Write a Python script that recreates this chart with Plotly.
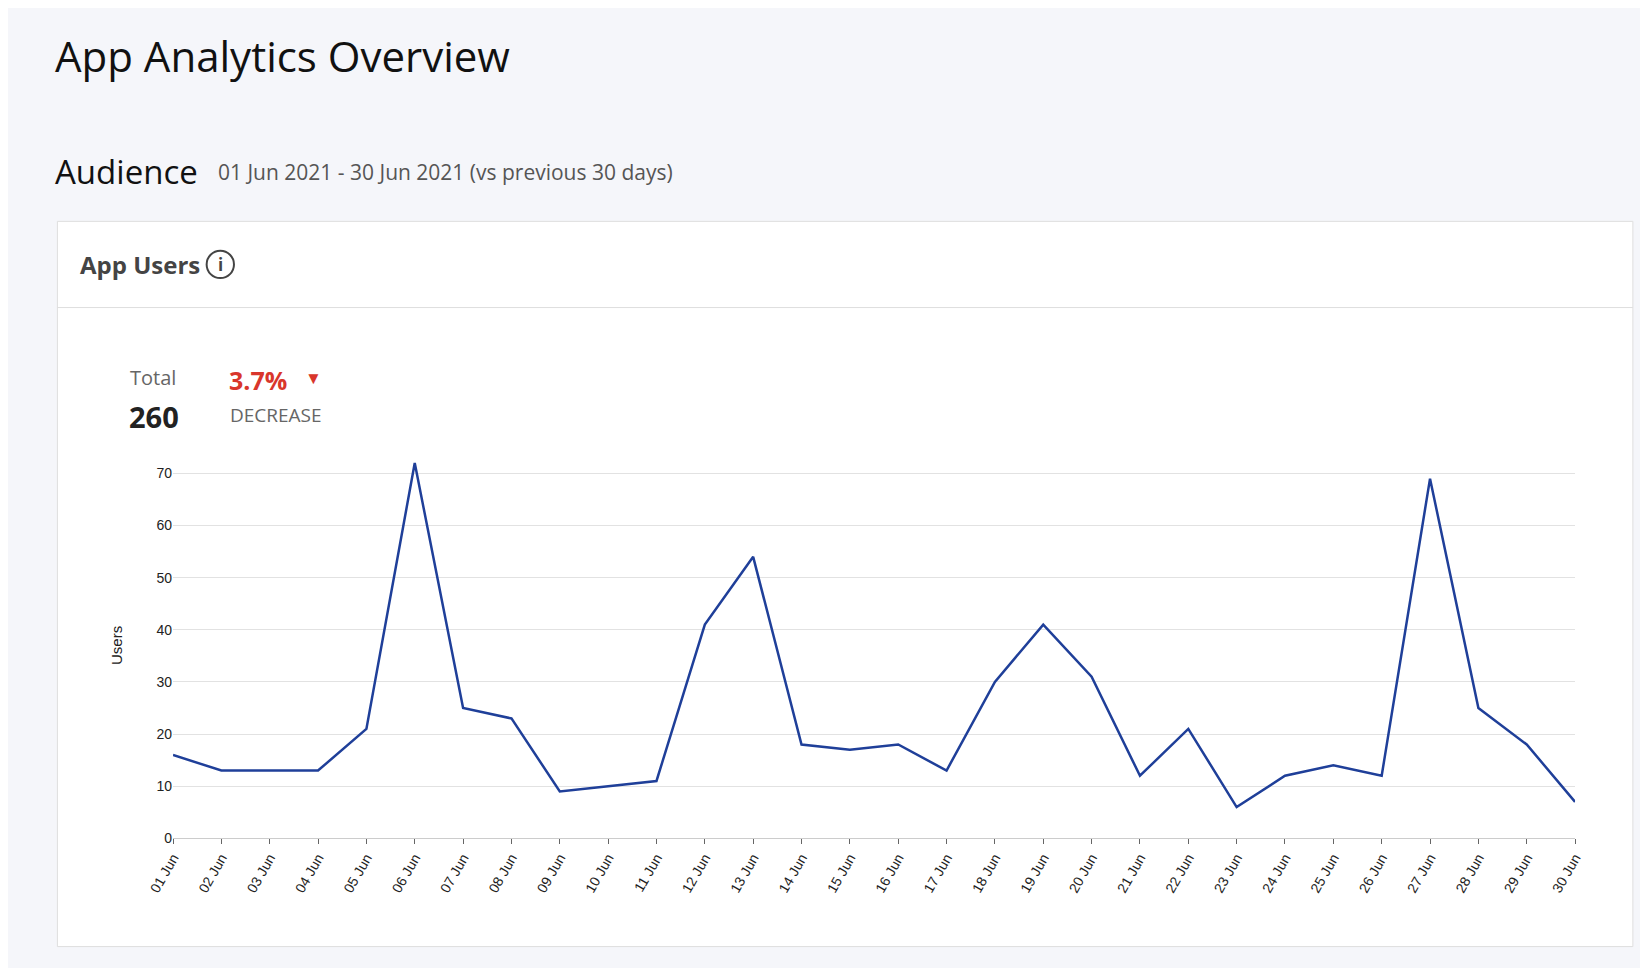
import plotly.graph_objects as go

days = ["%02d Jun" % d for d in range(1, 31)]
users = [16, 13, 13, 13, 21, 72, 25, 23, 9, 10, 11, 41, 54, 18, 17, 18, 13, 30, 41, 31,
         12, 21, 6, 12, 14, 12, 69, 25, 18, 7]
y_ticks = [0, 10, 20, 30, 40, 50, 60, 70]

W, H = 1568.0, 921.0  # reference proportions
S = 1648 / W
def px(x): return x / W
def py(y): return 1 - y / H
def fs(n): return round(n * S)

fig = go.Figure(go.Scatter(x=days, y=users, mode="lines",
                           line=dict(color="#1f3f99", width=2.5), hoverinfo="x+y"))

fig.update_layout(
    width=1648, height=968, margin=dict(l=0, r=0, t=0, b=0, pad=0),
    paper_bgcolor="#f5f6fa", plot_bgcolor="white", showlegend=False,
    font=dict(family="Source Sans Pro, Open Sans, sans-serif", color="#333"),
    xaxis=dict(domain=[px(157), px(1491)], range=[0, 29], showgrid=False, automargin=False,
               tickangle=-60, tickfont=dict(family="Liberation Sans, Arial", size=fs(13), color="#222"),
               ticks="outside", ticklen=5, tickcolor="#666", showline=True, linecolor="#ccc"),
    yaxis=dict(domain=[py(790), py(423)], range=[0, 74], tickvals=y_ticks, automargin=False,
               gridcolor="#e2e2e2", zeroline=False,
               tickfont=dict(family="Liberation Sans, Arial", size=fs(13), color="#222"),
               title=dict(text="Users", font=dict(family="Liberation Sans, Arial", size=fs(14), color="#222"),
                          standoff=30)),
)
# card
fig.add_shape(type="rect", xref="paper", yref="paper", x0=px(47), x1=px(1546), y0=py(893), y1=py(203),
              fillcolor="white", line=dict(color="#dedede", width=1), layer="below")
fig.add_shape(type="line", xref="paper", yref="paper", x0=px(47), x1=px(1546), y0=py(285), y1=py(285),
              line=dict(color="#dedede", width=1))
fig.add_shape(type="circle", xref="paper", yref="paper", x0=px(189), x1=px(215), y0=py(257), y1=py(231),
              line=dict(color="#444", width=2))

def txt(x, y, t, size, color="#222", anchor="left"):
    fig.add_annotation(xref="paper", yref="paper", x=px(x), y=py(y), text=t, showarrow=False,
                       xanchor=anchor, yanchor="middle", font=dict(size=fs(size), color=color))

txt(43, 45, "App Analytics Overview", 40, "#111")
txt(43, 156, "Audience", 31, "#111")
txt(198, 156, "01 Jun 2021 - 30 Jun 2021 (vs previous 30 days)", 20, "#555")
txt(67, 244, "<b>App Users</b>", 23, "#444")
txt(202, 244, "<b>i</b>", 16, "#444", "center")
txt(114, 352, "Total", 19, "#666")
txt(113, 389, "<b>260</b>", 28, "#222")
txt(208, 354, "<b>3.7%</b>", 24, "#d9362b")
txt(281, 352, "▼", 16, "#d9362b")
txt(209, 387, "DECREASE", 18, "#666")

fig.write_html("out.html")
